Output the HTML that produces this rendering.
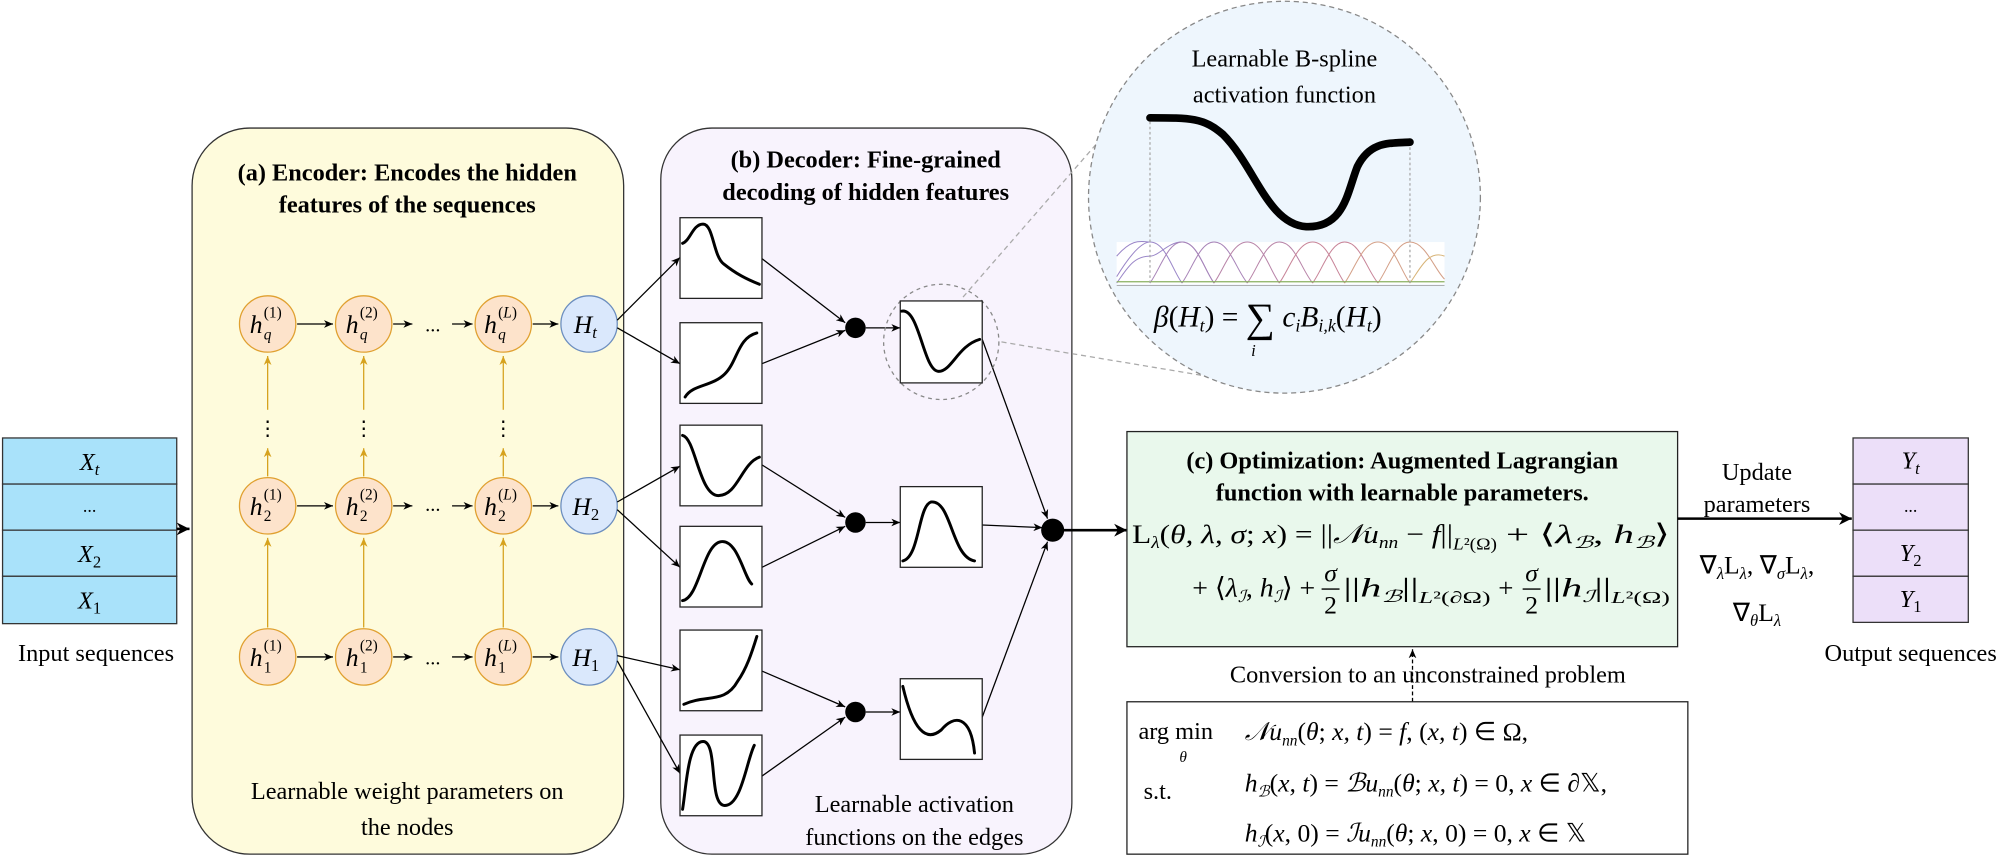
<!DOCTYPE html>
<html><head><meta charset="utf-8"><style>
html,body{margin:0;padding:0;background:#fff;}
svg{display:block;}
text{font-family:"Liberation Serif",serif;fill:#000;}
.b{font-weight:bold;font-size:19px;}
.t{font-size:19px;}
.i{font-style:italic;}
</style></head><body>
<svg width="2008" height="858" viewBox="0 0 1568 670" preserveAspectRatio="none" xmlns="http://www.w3.org/2000/svg">
<defs>
<marker id="a" markerWidth="8" markerHeight="8" refX="7" refY="4" orient="auto" markerUnits="userSpaceOnUse"><path d="M0,1 L7,4 L0,7 L2,4 z" fill="#000"/></marker>
<marker id="ay" markerWidth="8" markerHeight="8" refX="7" refY="4" orient="auto" markerUnits="userSpaceOnUse"><path d="M0,1 L7,4 L0,7 L2,4 z" fill="#d6a21e"/></marker>
<marker id="ab" markerWidth="12" markerHeight="12" refX="10" refY="6" orient="auto" markerUnits="userSpaceOnUse"><path d="M0,1 L10,6 L0,11 L3,6 z" fill="#000"/></marker>
</defs>

<!-- Input sequences -->
<g stroke="#333" stroke-width="1" fill="#a9e2fa">
<rect x="2" y="342" width="136" height="36"/><rect x="2" y="378" width="136" height="36"/>
<rect x="2" y="414" width="136" height="36"/><rect x="2" y="450" width="136" height="37"/>
</g>
<text x="70" y="367" font-size="19" text-anchor="middle"><tspan class="i">X</tspan><tspan font-size="13" dy="4" class="i">t</tspan></text>
<text x="70" y="400" font-size="14" text-anchor="middle">...</text>
<text x="70" y="439" font-size="19" text-anchor="middle"><tspan class="i">X</tspan><tspan font-size="13" dy="4">2</tspan></text>
<text x="70" y="475" font-size="19" text-anchor="middle"><tspan class="i">X</tspan><tspan font-size="13" dy="4">1</tspan></text>
<text x="75" y="516" class="t" text-anchor="middle">Input sequences</text>
<line x1="138" y1="413" x2="148" y2="413" stroke="#000" stroke-width="2" marker-end="url(#ab)"/>

<!-- Encoder -->
<rect x="150" y="100" width="337" height="567" rx="45" fill="#fefbdc" stroke="#333" stroke-width="1"/>
<text x="318" y="141" class="b" text-anchor="middle">(a) Encoder: Encodes the hidden</text>
<text x="318" y="166" class="b" text-anchor="middle">features of the sequences</text>
<text x="318" y="624" class="t" text-anchor="middle">Learnable weight parameters on</text>
<text x="318" y="652" class="t" text-anchor="middle">the nodes</text>

<g stroke="#d6a21e" stroke-width="1" marker-end="url(#ay)">
<line x1="209" y1="490" x2="209" y2="420"/><line x1="284" y1="490" x2="284" y2="420"/><line x1="393" y1="490" x2="393" y2="420"/>
<line x1="209" y1="372" x2="209" y2="350"/><line x1="284" y1="372" x2="284" y2="350"/><line x1="393" y1="372" x2="393" y2="350"/>
<line x1="209" y1="320" x2="209" y2="278"/><line x1="284" y1="320" x2="284" y2="278"/><line x1="393" y1="320" x2="393" y2="278"/>
</g>
<g font-size="16" text-anchor="middle"><text x="209" y="340">⋮</text><text x="284" y="340">⋮</text><text x="393" y="340">⋮</text></g>

<g stroke="#000" stroke-width="1" marker-end="url(#a)">
<line x1="232" y1="253" x2="260" y2="253"/><line x1="307" y1="253" x2="322" y2="253"/><line x1="353" y1="253" x2="369" y2="253"/><line x1="416" y1="253" x2="436" y2="253"/>
<line x1="232" y1="395" x2="260" y2="395"/><line x1="307" y1="395" x2="322" y2="395"/><line x1="353" y1="395" x2="369" y2="395"/><line x1="416" y1="395" x2="436" y2="395"/>
<line x1="232" y1="513" x2="260" y2="513"/><line x1="307" y1="513" x2="322" y2="513"/><line x1="353" y1="513" x2="369" y2="513"/><line x1="416" y1="513" x2="436" y2="513"/>
</g>
<g font-size="16" text-anchor="middle"><text x="338" y="259">...</text><text x="338" y="399">...</text><text x="338" y="519">...</text></g>

<g fill="#fde3cb" stroke="#e0a030" stroke-width="1">
<circle cx="209" cy="253" r="22"/><circle cx="284" cy="253" r="22"/><circle cx="393" cy="253" r="22"/>
<circle cx="209" cy="395" r="22"/><circle cx="284" cy="395" r="22"/><circle cx="393" cy="395" r="22"/>
<circle cx="209" cy="513" r="22"/><circle cx="284" cy="513" r="22"/><circle cx="393" cy="513" r="22"/>
</g>
<g fill="#dae8fc" stroke="#6c8ebf" stroke-width="1">
<circle cx="460" cy="253" r="22"/><circle cx="460" cy="395" r="22"/><circle cx="460" cy="513" r="22"/>
</g>
<g font-size="20" class="i">
<text x="195" y="260">h</text><text x="270" y="260">h</text><text x="378" y="260">h</text>
<text x="195" y="402">h</text><text x="270" y="402">h</text><text x="378" y="402">h</text>
<text x="195" y="520">h</text><text x="270" y="520">h</text><text x="378" y="520">h</text>
</g>
<g font-size="12">
<text x="206" y="248">(1)</text><text x="281" y="248">(2)</text><text x="389" y="248">(<tspan class="i">L</tspan>)</text>
<text x="206" y="390">(1)</text><text x="281" y="390">(2)</text><text x="389" y="390">(<tspan class="i">L</tspan>)</text>
<text x="206" y="508">(1)</text><text x="281" y="508">(2)</text><text x="389" y="508">(<tspan class="i">L</tspan>)</text>
<text x="206" y="265" class="i">q</text><text x="281" y="265" class="i">q</text><text x="389" y="265" class="i">q</text>
<text x="206" y="407">2</text><text x="281" y="407">2</text><text x="389" y="407">2</text>
<text x="206" y="525">1</text><text x="281" y="525">1</text><text x="389" y="525">1</text>
</g>
<g font-size="20">
<text x="448" y="260"><tspan class="i">H</tspan><tspan font-size="13" dy="4" class="i">t</tspan></text>
<text x="447" y="402"><tspan class="i">H</tspan><tspan font-size="13" dy="4">2</tspan></text>
<text x="447" y="520"><tspan class="i">H</tspan><tspan font-size="13" dy="4">1</tspan></text>
</g>

<!-- Decoder -->
<rect x="516" y="100" width="321" height="567" rx="40" fill="#f8f3fd" stroke="#333" stroke-width="1"/>
<text x="676" y="131" class="b" text-anchor="middle">(b) Decoder: Fine-grained</text>
<text x="676" y="156" class="b" text-anchor="middle">decoding of hidden features</text>
<text x="714" y="634" class="t" text-anchor="middle">Learnable activation</text>
<text x="714" y="660" class="t" text-anchor="middle">functions on the edges</text>

<!-- big zoom circle -->
<line x1="752" y1="232" x2="860" y2="108" stroke="#aaa" stroke-dasharray="4,3"/>
<line x1="782" y1="267" x2="1010" y2="305" stroke="#aaa" stroke-dasharray="4,3"/>
<circle cx="1003" cy="154" r="153" fill="#eef6fd" stroke="#888" stroke-dasharray="4,3"/>
<text x="1003" y="52" class="t" text-anchor="middle">Learnable B-spline</text>
<text x="1003" y="80" class="t" text-anchor="middle">activation function</text>
<rect x="872" y="189" width="256" height="33" fill="#fff"/>
<g fill="none" stroke-width="0.8">
<path d="M872,200 C885,185 892,189 898,189 C910,189 915,210 923,221 M872,216 C880,203 890,189 898,189" stroke="#9a86c8"/>
<path d="M872,221 C880,210 885,200 898,200 C905,200 912,189 923,189 C935,189 940,210 948,221" stroke="#9a86c8"/>
<path d="M898,221 C906,210 912,189 923,189 C935,189 940,210 948,221 M923,221 C931,210 937,189 948,189 C960,189 965,210 974,221" stroke="#a884b8"/>
<path d="M948,221 C956,210 962,189 974,189 C986,189 991,210 999,221 M974,221 C982,210 988,189 999,189 C1011,189 1016,210 1025,221" stroke="#b884a8"/>
<path d="M999,221 C1007,210 1013,189 1025,189 C1037,189 1042,210 1050,221 M1025,221 C1033,210 1039,189 1050,189 C1062,189 1067,210 1076,221" stroke="#c88498"/>
<path d="M1050,221 C1058,210 1064,189 1076,189 C1088,189 1093,210 1101,221 M1076,221 C1084,210 1090,189 1101,189 C1113,189 1120,210 1128,218" stroke="#d4a088"/>
<path d="M1101,221 C1109,210 1115,195 1128,200" stroke="#d8b478"/>
</g>
<line x1="872" y1="220" x2="1128" y2="220" stroke="#8ab060" stroke-width="1"/>
<line x1="872" y1="223" x2="1128" y2="223" stroke="#999" stroke-width="0.6"/>
<line x1="898" y1="95" x2="898" y2="222" stroke="#aaa" stroke-dasharray="2,2"/>
<line x1="1101" y1="115" x2="1101" y2="222" stroke="#aaa" stroke-dasharray="2,2"/>
<path d="M898,92 C930,92 940,92 955,105 C980,130 990,175 1020,177 C1050,178 1052,150 1060,130 C1070,110 1085,112 1101,111" fill="none" stroke="#000" stroke-width="6" stroke-linecap="round"/>
<text x="990" y="255" font-size="23" text-anchor="middle"><tspan class="i">β</tspan>(<tspan class="i">H</tspan><tspan font-size="14" dy="4" class="i">t</tspan><tspan dy="-4">) = </tspan><tspan font-size="32" dy="4">∑</tspan><tspan dy="-4" class="i"> c</tspan><tspan font-size="14" dy="4" class="i">i</tspan><tspan dy="-4" class="i">B</tspan><tspan font-size="14" dy="4" class="i">i,k</tspan><tspan dy="-4">(</tspan><tspan class="i">H</tspan><tspan font-size="14" dy="4" class="i">t</tspan><tspan dy="-4">)</tspan></text>
<text x="977" y="278" font-size="13" class="i">i</text>

<!-- arrows to activation boxes -->
<g stroke="#000" stroke-width="1" fill="none" marker-end="url(#a)">
<line x1="482" y1="250" x2="531" y2="201"/><line x1="482" y1="256" x2="531" y2="284"/>
<line x1="482" y1="392" x2="531" y2="364"/><line x1="482" y1="398" x2="531" y2="443"/>
<line x1="482" y1="512" x2="531" y2="523"/><line x1="482" y1="516" x2="531" y2="604"/>
<line x1="595" y1="202" x2="660" y2="252"/><line x1="595" y1="284" x2="660" y2="258"/>
<line x1="595" y1="363" x2="660" y2="404"/><line x1="595" y1="443" x2="660" y2="411"/>
<line x1="595" y1="524" x2="660" y2="552"/><line x1="595" y1="606" x2="660" y2="560"/>
<line x1="676" y1="256" x2="703" y2="256"/><line x1="676" y1="408" x2="703" y2="408"/><line x1="676" y1="556" x2="703" y2="556"/>
<line x1="767" y1="265" x2="818" y2="405"/><line x1="767" y1="410" x2="814" y2="412"/><line x1="767" y1="560" x2="818" y2="423"/>
</g>
<g fill="#000"><circle cx="668" cy="256" r="8"/><circle cx="668" cy="408" r="8"/><circle cx="668" cy="556" r="8"/><circle cx="822" cy="414" r="9"/></g>
<circle cx="735" cy="267" r="45" fill="none" stroke="#888" stroke-dasharray="3,3"/>

<g fill="#fff" stroke="#222" stroke-width="1">
<rect x="531" y="170" width="64" height="63"/><rect x="531" y="252" width="64" height="63"/>
<rect x="531" y="332" width="64" height="63"/><rect x="531" y="411" width="64" height="63"/>
<rect x="531" y="492" width="64" height="63"/><rect x="531" y="574" width="64" height="63"/>
<rect x="703" y="235" width="64" height="64"/><rect x="703" y="380" width="64" height="63"/><rect x="703" y="530" width="64" height="63"/>
</g>
<g fill="none" stroke="#000" stroke-width="2.3" stroke-linecap="round">
<path transform="translate(531,170)" d="M2,20 C8,18 10,5 18,5 C26,5 26,30 34,36 C44,44 52,48 62,52"/>
<path transform="translate(531,252)" d="M4,58 C10,48 25,50 35,40 C45,30 45,12 60,8"/>
<path transform="translate(531,332)" d="M2,8 C12,10 15,55 30,55 C45,55 48,30 62,25"/>
<path transform="translate(531,411)" d="M2,58 C15,56 18,14 32,12 C45,10 50,40 56,45"/>
<path transform="translate(531,492)" d="M3,58 C20,50 35,58 45,40 C52,30 56,18 60,5"/>
<path transform="translate(531,574)" d="M2,58 C5,40 6,5 18,5 C30,5 22,55 35,55 C48,55 52,20 58,8"/>
<path transform="translate(703,235)" d="M1,8 C15,5 18,55 30,55 C40,55 45,35 62,30"/>
<path transform="translate(703,380)" d="M2,58 C15,55 14,15 24,12 C40,10 40,55 58,58"/>
<path transform="translate(703,530)" d="M2,6 C10,40 20,50 32,40 C42,28 55,28 58,58"/>
</g>

<line x1="830" y1="414" x2="880" y2="414" stroke="#000" stroke-width="2" marker-end="url(#ab)"/>

<!-- Optimization -->
<rect x="880" y="337" width="430" height="168" fill="#e9f8ec" stroke="#222" stroke-width="1"/>
<text x="1095" y="366" class="b" text-anchor="middle">(c) Optimization: Augmented Lagrangian</text>
<text x="1095" y="391" class="b" text-anchor="middle">function with learnable parameters.</text>
<text x="884" y="424" font-size="21" textLength="285" lengthAdjust="spacingAndGlyphs">L<tspan font-size="13" dy="4" class="i">λ</tspan><tspan dy="-4">(</tspan><tspan class="i">θ, λ, σ</tspan>; <tspan class="i">x</tspan>) = ||<tspan class="i">𝒩u</tspan><tspan font-size="13" dy="4" class="i">nn</tspan><tspan dy="-4"> − </tspan><tspan class="i">f</tspan>||<tspan font-size="13" dy="5"><tspan class="i">L</tspan>²(Ω)</tspan></text>
<text x="1176" y="424" font-size="21" textLength="128" lengthAdjust="spacingAndGlyphs">+ ⟨<tspan class="i">λ</tspan><tspan font-size="13" dy="4" class="i">ℬ</tspan><tspan dy="-4">, </tspan><tspan class="i">h</tspan><tspan font-size="13" dy="4" class="i">ℬ</tspan><tspan dy="-4">⟩</tspan></text>
<text x="931" y="466" font-size="21" textLength="96" lengthAdjust="spacingAndGlyphs">+ ⟨<tspan class="i">λ</tspan><tspan font-size="13" dy="4" class="i">ℐ</tspan><tspan dy="-4">, </tspan><tspan class="i">h</tspan><tspan font-size="13" dy="4" class="i">ℐ</tspan><tspan dy="-4">⟩ +</tspan></text>
<text x="1049" y="466" font-size="21" textLength="115" lengthAdjust="spacingAndGlyphs">||<tspan class="i">h</tspan><tspan font-size="13" dy="4" class="i">ℬ</tspan><tspan dy="-4">||</tspan><tspan font-size="13" dy="5"><tspan class="i">L</tspan>²(∂Ω)</tspan></text>
<text x="1170" y="466" font-size="21">+</text>
<text x="1206" y="466" font-size="21" textLength="98" lengthAdjust="spacingAndGlyphs">||<tspan class="i">h</tspan><tspan font-size="13" dy="4" class="i">ℐ</tspan><tspan dy="-4">||</tspan><tspan font-size="13" dy="5"><tspan class="i">L</tspan>²(Ω)</tspan></text>
<g font-size="20" text-anchor="middle">
<text x="1039" y="454" class="i">σ</text><line x1="1032" y1="460" x2="1046" y2="460" stroke="#000"/><text x="1039" y="479">2</text>
<text x="1196" y="454" class="i">σ</text><line x1="1189" y1="460" x2="1203" y2="460" stroke="#000"/><text x="1196" y="479">2</text>
</g>

<!-- update arrow -->
<line x1="1310" y1="405" x2="1446" y2="405" stroke="#000" stroke-width="2" marker-end="url(#ab)"/>
<text x="1372" y="375" class="t" text-anchor="middle">Update</text>
<text x="1372" y="400" class="t" text-anchor="middle">parameters</text>
<text x="1372" y="448" font-size="20" text-anchor="middle">∇<tspan font-size="13" dy="4" class="i">λ</tspan><tspan dy="-4">L</tspan><tspan font-size="13" dy="4" class="i">λ</tspan><tspan dy="-4">, ∇</tspan><tspan font-size="13" dy="4" class="i">σ</tspan><tspan dy="-4">L</tspan><tspan font-size="13" dy="4" class="i">λ</tspan><tspan dy="-4">,</tspan></text>
<text x="1372" y="485" font-size="20" text-anchor="middle">∇<tspan font-size="13" dy="4" class="i">θ</tspan><tspan dy="-4">L</tspan><tspan font-size="13" dy="4" class="i">λ</tspan></text>

<!-- Output -->
<g stroke="#333" stroke-width="1" fill="#ecdff9">
<rect x="1447" y="342" width="90" height="36"/><rect x="1447" y="378" width="90" height="36"/>
<rect x="1447" y="414" width="90" height="36"/><rect x="1447" y="450" width="90" height="36"/>
</g>
<text x="1492" y="366" font-size="19" text-anchor="middle"><tspan class="i">Y</tspan><tspan font-size="13" dy="4" class="i">t</tspan></text>
<text x="1492" y="400" font-size="14" text-anchor="middle">...</text>
<text x="1492" y="438" font-size="19" text-anchor="middle"><tspan class="i">Y</tspan><tspan font-size="13" dy="4">2</tspan></text>
<text x="1492" y="474" font-size="19" text-anchor="middle"><tspan class="i">Y</tspan><tspan font-size="13" dy="4">1</tspan></text>
<text x="1492" y="516" class="t" text-anchor="middle">Output sequences</text>

<!-- Conversion -->
<text x="1115" y="533" class="t" text-anchor="middle">Conversion to an unconstrained problem</text>
<line x1="1103" y1="548" x2="1103" y2="507" stroke="#000" stroke-dasharray="3,2" marker-end="url(#a)"/>
<rect x="880" y="548" width="438" height="119" fill="#fff" stroke="#222" stroke-width="1"/>
<text x="889" y="577" font-size="19">arg min</text>
<text x="921" y="595" font-size="12" class="i">θ</text>
<text x="893" y="624" font-size="19">s.t.</text>
<text x="972" y="578" font-size="20"><tspan class="i">𝒩u</tspan><tspan font-size="12" dy="4" class="i">nn</tspan><tspan dy="-4">(</tspan><tspan class="i">θ</tspan>; <tspan class="i">x, t</tspan>) = <tspan class="i">f</tspan>, (<tspan class="i">x, t</tspan>) ∈ Ω,</text>
<text x="972" y="618" font-size="20"><tspan class="i">h</tspan><tspan font-size="12" dy="4" class="i">ℬ</tspan><tspan dy="-4">(</tspan><tspan class="i">x, t</tspan>) = <tspan class="i">ℬu</tspan><tspan font-size="12" dy="4" class="i">nn</tspan><tspan dy="-4">(</tspan><tspan class="i">θ</tspan>; <tspan class="i">x, t</tspan>) = 0, <tspan class="i">x</tspan> ∈ ∂𝕏,</text>
<text x="972" y="657" font-size="20"><tspan class="i">h</tspan><tspan font-size="12" dy="4" class="i">ℐ</tspan><tspan dy="-4">(</tspan><tspan class="i">x</tspan>, 0) = <tspan class="i">ℐu</tspan><tspan font-size="12" dy="4" class="i">nn</tspan><tspan dy="-4">(</tspan><tspan class="i">θ</tspan>; <tspan class="i">x</tspan>, 0) = 0, <tspan class="i">x</tspan> ∈ 𝕏</text>
</svg>
</body></html>
